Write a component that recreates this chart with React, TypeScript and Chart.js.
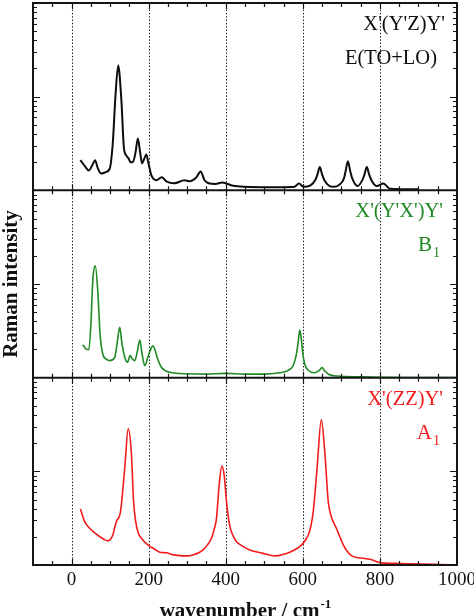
import React, { useEffect, useRef } from "react";
import { Chart, registerables } from "chart.js";

Chart.register(...registerables);

// X'(Y'Z)Y' geometry, E(TO+LO) modes
const eWavenumber = [
  23, 35, 45, 55, 61, 68, 77, 88, 99, 107, 114, 121, 129, 136, 142, 148, 153, 159, 166, 172,
  178, 183, 189, 194, 199, 207, 220, 234, 246, 267, 293, 306, 324, 335, 345, 356, 373, 391,
  419, 450, 500, 550, 578, 590, 602, 620, 632, 638, 644, 650, 656, 668, 680, 695, 707, 711,
  717, 723, 728, 742, 755, 760, 766, 772, 778, 792, 809, 826, 850, 900,
];
const eIntensity = [
  21, 18, 16.3, 19, 21, 17.3, 15.1, 15.6, 17, 32, 103, 215, 96, 28, 23.6, 21.9, 20, 20, 25.4, 35.8,
  25.4, 19.4, 22, 24.2, 19.9, 14.5, 12.8, 13.8, 12.5, 11.9, 12.8, 12.5, 13.8, 15.9, 12.8, 11.9, 11.7, 12.1,
  11.2, 10.9, 10.8, 10.8, 10.9, 11.8, 10.9, 11.3, 12.8, 14.8, 17.7, 14.8, 12.8, 11.2, 10.9, 11.5, 13.5, 16,
  20.5, 16, 13.5, 11.1, 13, 14.8, 17.7, 14.8, 12.8, 11.1, 11.8, 10.4, 10.3, 10.25,
];

// X'(Y'X')Y' geometry, B1 modes
const b1Wavenumber = [
  29, 38, 45, 51, 55, 61.5, 68, 74, 81, 90, 99, 112, 118, 125, 131, 138, 145, 152, 158, 164,
  171, 177, 183, 190, 198, 205, 211, 217, 222, 233, 255, 300, 350, 400, 450, 500, 540, 560,
  575, 583, 588, 592, 596, 600, 605, 614, 630, 642, 650, 657, 668, 690, 750, 800, 900, 1000,
];
const b1Intensity = [
  22.5, 20.2, 19.9, 43.6, 108, 156, 85, 29, 17.9, 15.8, 15.2, 16.5, 22.9, 34.4, 22.9, 16.5, 14.6, 17.2, 15.8, 15.2,
  19.4, 25.2, 17.9, 13.4, 16.5, 20, 21.9, 19.5, 16.5, 12.9, 11.4, 11, 10.9, 11.1, 10.9, 10.9, 11.3, 11.8,
  13.5, 17.5, 24, 32.2, 26, 18, 14, 12, 11.3, 11.9, 12.8, 11.8, 10.8, 10.4, 10.2, 10.1, 10.05, 10.03,
];

// X'(ZZ)Y' geometry, A1 modes
const a1Wavenumber = [
  23, 34, 47, 60, 73, 85, 94, 101, 107, 116, 127, 138, 147, 155, 161, 166, 172, 185, 198, 215,
  229, 246, 262, 280, 300, 315, 330, 341, 353, 363, 370, 376, 383, 390, 396, 402, 410, 418, 428, 445,
  462, 497, 527, 550, 566, 585, 597, 607, 614, 621, 627, 637, 648, 657, 666, 674, 687, 696, 705, 715,
  726, 740, 756, 774, 800, 840, 878, 940, 1000,
];
const a1Intensity = [
  39.6, 29, 24.7, 22, 20.1, 18.7, 18.1, 18.8, 20.9, 29, 37.1, 108, 284, 161, 47.4, 30, 22.7, 18.5, 16.4, 14.8,
  13.7, 13.5, 12.9, 12.6, 12.5, 12.8, 13.5, 14.5, 16.5, 19.3, 24, 31.5, 71.6, 114, 91, 47.4, 26.7, 21, 17.7, 15.8,
  14.5, 13.3, 12.5, 13, 13.7, 15, 16.4, 18.5, 20.9, 26, 37.1, 108, 354, 161, 47.4, 32.8, 24.7, 20, 16.4, 14,
  12.6, 12, 11.8, 11.5, 10.6, 10.4, 10.3, 10.15, 10,
];

const xTickLabels = [0, 200, 400, 600, 800, 1000];
const dottedLineValues = [0, 200, 400, 600, 800];
const xMinorStep = 50;

const BLACK = "#0d0d0d";
const GREEN = "#1f8a24";
const RED = "#f21b1b";
const SERIF = '"Liberation Serif", "Times New Roman", serif';

type PanelLabel = {
  scaleId: string;
  color: string;
  title: string;
  titleRight: number;
  mode: string;
  modeSub: string;
  modeRight: number;
};

const panelLabels: PanelLabel[] = [
  { scaleId: "yE", color: BLACK, title: "X'(Y'Z)Y'", titleRight: 12, mode: "E(TO+LO)", modeSub: "", modeRight: 20 },
  { scaleId: "yB", color: GREEN, title: "X'(Y'X')Y'", titleRight: 14, mode: "B", modeSub: "1", modeRight: 17 },
  { scaleId: "yA", color: RED, title: "X'(ZZ)Y'", titleRight: 14, mode: "A", modeSub: "1", modeRight: 17 },
];

const toPoints = (xs: number[], ys: number[]) => xs.map((x, i) => ({ x, y: ys[i] }));

const panelIds = ["yE", "yB", "yA"];

const framePlugin = {
  id: "panelFrame",
  beforeDatasetsDraw(chart: any) {
    const { ctx, chartArea } = chart;
    const xs = chart.scales.x;
    ctx.save();
    ctx.strokeStyle = "#222";
    ctx.lineWidth = 1;
    ctx.setLineDash([1.5, 1.8]);
    for (const v of dottedLineValues) {
      const px = Math.round(xs.getPixelForValue(v)) + 0.5;
      ctx.beginPath();
      ctx.moveTo(px, chartArea.top);
      ctx.lineTo(px, chartArea.bottom);
      ctx.stroke();
    }
    ctx.restore();
  },
  afterDatasetsDraw(chart: any) {
    const { ctx, chartArea } = chart;
    const { left, right, top, bottom } = chartArea;
    const xs = chart.scales.x;
    ctx.save();
    ctx.strokeStyle = "#151515";

    // ticks on every panel: inward on all four sides
    ctx.lineWidth = 1.2;
    for (const id of panelIds) {
      const ys = chart.scales[id];
      const min = ys.min as number;
      const max = ys.max as number;
      for (let d = min; d < max; d *= 10) {
        for (let m = 1; m <= 9; m++) {
          const v = d * m;
          if (v <= min || v >= max) continue;
          const py = Math.round(ys.getPixelForValue(v)) + 0.5;
          const len = m === 1 ? 7 : 4;
          ctx.beginPath();
          ctx.moveTo(left, py);
          ctx.lineTo(left + len, py);
          ctx.moveTo(right, py);
          ctx.lineTo(right - len, py);
          ctx.stroke();
        }
      }
      for (let v = xs.min + xMinorStep; v < xs.max; v += xMinorStep) {
        const px = Math.round(xs.getPixelForValue(v)) + 0.5;
        const len = v % 200 === 0 ? 6 : 4;
        ctx.beginPath();
        ctx.moveTo(px, ys.top);
        ctx.lineTo(px, ys.top + len);
        ctx.moveTo(px, ys.bottom);
        ctx.lineTo(px, ys.bottom - len);
        ctx.stroke();
      }
    }

    // frame and panel separators
    ctx.lineWidth = 2;
    ctx.strokeRect(left, top, right - left, bottom - top);
    for (const id of panelIds.slice(0, 2)) {
      const yb = chart.scales[id].bottom;
      ctx.beginPath();
      ctx.moveTo(left, yb);
      ctx.lineTo(right, yb);
      ctx.stroke();
    }

    // panel labels
    ctx.textBaseline = "alphabetic";
    for (const lab of panelLabels) {
      const ys = chart.scales[lab.scaleId];
      ctx.fillStyle = lab.color;
      ctx.font = `20.5px ${SERIF}`;
      ctx.textAlign = "right";
      ctx.fillText(lab.title, right - lab.titleRight, ys.top + 27);
      const modeX = right - lab.modeRight;
      if (lab.modeSub) {
        ctx.font = `14px ${SERIF}`;
        const subW = ctx.measureText(lab.modeSub).width;
        ctx.fillText(lab.modeSub, modeX, ys.top + 67);
        ctx.font = `21px ${SERIF}`;
        ctx.fillText(lab.mode, modeX - subW - 1, ys.top + 61);
      } else {
        ctx.font = `20.5px ${SERIF}`;
        ctx.fillText(lab.mode, modeX, ys.top + 61);
      }
    }

    // x tick labels
    ctx.fillStyle = "#111";
    ctx.font = `19px ${SERIF}`;
    ctx.textAlign = "center";
    for (const v of xTickLabels) {
      ctx.fillText(String(v), xs.getPixelForValue(v), bottom + 20);
    }

    // x axis title with superscript
    const main = "wavenumber / cm";
    const sup = "-1";
    ctx.font = `bold 21px ${SERIF}`;
    const wMain = ctx.measureText(main).width;
    ctx.font = `bold 13px ${SERIF}`;
    const wSup = ctx.measureText(sup).width;
    const cx = (left + right) / 2;
    const x0 = cx - (wMain + wSup) / 2;
    ctx.textAlign = "left";
    ctx.font = `bold 21px ${SERIF}`;
    ctx.fillText(main, x0, bottom + 52);
    ctx.font = `bold 13px ${SERIF}`;
    ctx.fillText(sup, x0 + wMain + 1, bottom + 43);

    // y axis title
    ctx.save();
    ctx.translate(17, (top + bottom) / 2);
    ctx.rotate(-Math.PI / 2);
    ctx.textAlign = "center";
    ctx.font = `bold 21px ${SERIF}`;
    ctx.fillText("Raman intensity", 0, 0);
    ctx.restore();

    ctx.restore();
  },
};

const logPanel = (weight: number) => ({
  type: "logarithmic" as const,
  min: 10,
  max: 1000,
  display: false,
  position: "left" as const,
  stack: "panels",
  stackWeight: 1,
  weight,
});

export default function App() {
  const canvasRef = useRef<HTMLCanvasElement | null>(null);

  useEffect(() => {
    document.body.style.margin = "0";
    const canvas = canvasRef.current;
    if (!canvas) return;
    const lineStyle = {
      pointRadius: 0,
      fill: false,
      cubicInterpolationMode: "monotone" as const,
    };
    const chart = new Chart(canvas, {
      type: "line",
      data: {
        datasets: [
          { ...lineStyle, label: "E(TO+LO)", data: toPoints(eWavenumber, eIntensity), yAxisID: "yE", borderColor: BLACK, borderWidth: 2 },
          { ...lineStyle, label: "B1", data: toPoints(b1Wavenumber, b1Intensity), yAxisID: "yB", borderColor: GREEN, borderWidth: 1.6 },
          { ...lineStyle, label: "A1", data: toPoints(a1Wavenumber, a1Intensity), yAxisID: "yA", borderColor: RED, borderWidth: 1.6 },
        ],
      },
      options: {
        responsive: false,
        animation: false,
        devicePixelRatio: 1,
        layout: { padding: { top: 3, left: 33, right: 17, bottom: 51 } },
        plugins: { legend: { display: false }, tooltip: { enabled: false } },
        scales: {
          x: { type: "linear", min: -100, max: 1000, display: false },
          yA: logPanel(1),
          yB: logPanel(2),
          yE: logPanel(3),
        },
      },
      plugins: [framePlugin],
    });
    return () => chart.destroy();
  }, []);

  return (
    <div style={{ width: 474, height: 616, background: "#fff" }}>
      <canvas ref={canvasRef} width={474} height={616} />
    </div>
  );
}
